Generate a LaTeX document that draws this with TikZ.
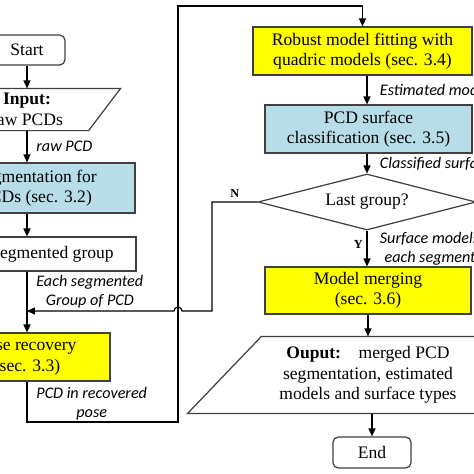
\documentclass[tikz,border=0pt]{standalone}
\usepackage{fontspec}
\setmainfont{Liberation Serif}
\newfontfamily\calfont{Carlito}
\usepackage{tikz}
\usetikzlibrary{arrows.meta, shapes.geometric}
\definecolor{boxyellow}{HTML}{FFFF00}
\definecolor{boxblue}{HTML}{B7DDE8}

\begin{document}
\begin{tikzpicture}[
  x=0.02cm, y=-0.02cm,
  line width=0.7pt,
  arr/.style={-{Triangle[length=4.5pt,width=4pt]}},
  proc/.style={draw=black!75, rectangle, align=center, inner sep=1pt, font=\fontsize{10}{11.6}\selectfont},
  term/.style={proc, rounded corners=3pt},
  iotext/.style={proc, draw=none},
  pgram/.style={draw=black!75},
  lbl/.style={font=\calfont\itshape\fontsize{9.2}{10.8}\selectfont, align=center, inner sep=1pt},
  yn/.style={font=\bfseries\fontsize{7}{8}\selectfont, inner sep=2pt}
]
  \useasboundingbox (0,0) rectangle (474,474);
  \clip (0,0) rectangle (474,474);

  % Left column
  \node[term, minimum width=1.52cm, minimum height=0.6cm] (start) at (27,50) {Start};
  \node[iotext, minimum width=3.08cm, minimum height=0.82cm] (input) at (27,109.5) {\textbf{Input:}\\raw PCDs};
  \draw[pgram] ([xshift=0.32cm]input.north west) -- ([xshift=0.32cm]input.north east)
    -- ([xshift=-0.32cm]input.south east) -- ([xshift=-0.32cm]input.south west) -- cycle;
  \node[proc, fill=boxblue, minimum width=3.96cm, minimum height=1cm] (seg) at (36,188) {Segmentation for\\PCDs (sec. 3.2)};
  \node[proc, minimum width=3.36cm, minimum height=0.68cm] (segg) at (52,254) {Segmented group};
  \node[proc, fill=boxyellow, minimum width=3.32cm, minimum height=0.96cm] (pose) at (27,357) {Pose recovery\\(sec. 3.3)};
  \coordinate (join) at (27,311);

  \draw[arr] (start) -- (input);
  \draw[arr] (input) -- node[lbl, right=4pt]{raw PCD} (seg.north -| input);
  \draw[arr] (seg.south -| input) -- (segg.north -| input);
  \draw (segg.south -| pose.north) -- node[lbl, right=4pt]{Each segmented\\Group of PCD} (join);
  \draw[arr] (join) -- (pose.north);

  % Right column
  \node[proc, fill=boxyellow, minimum width=4.38cm, minimum height=0.96cm] (fit) at (362.5,51) {Robust model fitting with\\quadric models (sec. 3.4)};
  \node[proc, fill=boxblue, minimum width=4.14cm, minimum height=0.96cm] (cls) at (368.5,129) {PCD surface\\classification (sec. 3.5)};
  \node[diamond, draw=black!75, aspect=3.9, inner sep=0pt, minimum width=4.36cm, minimum height=1.12cm, font=\fontsize{10}{11.6}\selectfont] (dia) at (367,202) {Last group?};
  \node[proc, fill=boxyellow, minimum width=4.12cm, minimum height=0.94cm] (merge) at (368,290.5) {Model merging\\(sec. 3.6)};
  \node[iotext, minimum width=5.72cm, minimum height=1.52cm] (output) at (368,375) {\textbf{Ouput:}\quad merged PCD\\segmentation, estimated\\models and surface types};
  \draw[pgram] ([xshift=0.74cm]output.north west) -- ([xshift=0.74cm]output.north east)
    -- ([xshift=-0.74cm]output.south east) -- ([xshift=-0.74cm]output.south west) -- cycle;
  \node[term, minimum width=1.56cm, minimum height=0.62cm] (end) at (372,452.5) {End};

  \draw[arr] (fit.south -| dia.north) -- node[lbl, right=6pt]{Estimated models} (cls.north -| dia.north);
  \draw[arr] (cls.south -| dia.north) -- node[lbl, right=6pt]{Classified surfaces} (dia.north);
  \draw[arr] (dia.south) -- node[yn, left, pos=0.4]{Y} node[lbl, right=6pt]{Surface models of\\each segmented} (merge.north -| dia.south);
  \draw[arr] (merge.south) -- (output.north -| merge.south);
  \draw[arr] (output.south -| end.north) -- (end.north);

  % Loop back to model fitting
  \coordinate (loopbl) at (178,422);
  \coordinate (looptop) at (178,6);
  \draw[arr] (pose.south) |- node[lbl, right=4pt, pos=0.27]{PCD in recovered\\pose} (loopbl) -- (looptop) -| (fit.north);

  % N branch, jumping over the loop line
  \coordinate (nturn) at (212,202);
  \coordinate (nlow) at (212,311);
  \coordinate (bump) at (182,311);
  \draw[arr] (dia.west) -- node[yn, above]{N} (nturn) -- (nlow) -- (bump) arc[start angle=0, end angle=180, radius=0.08cm] -- (join);
\end{tikzpicture}
\end{document}
